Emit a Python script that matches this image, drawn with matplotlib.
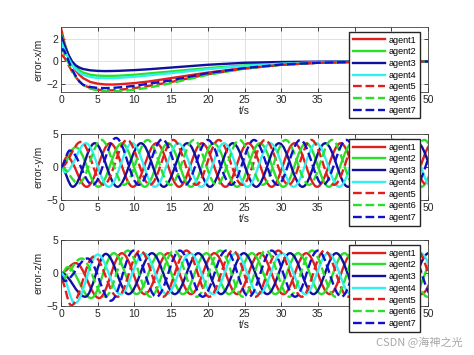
import matplotlib
matplotlib.use('Agg')
import matplotlib.pyplot as plt
from matplotlib.path import Path
from matplotlib.patches import PathPatch
from matplotlib.lines import Line2D

plt.rcParams['font.family'] = ['Liberation Sans', 'DejaVu Sans']

agents = ['agent1', 'agent2', 'agent3', 'agent4', 'agent5', 'agent6', 'agent7']
xticks = [0, 5, 10, 15, 20, 25, 30, 35, 40, 45, 50]
# 40 and 45 sit behind the legend in the reference
xticklabels = ['0', '5', '10', '15', '20', '25', '30', '35', '', '', '50']

x_time = [0, 0.25, 0.5, 1, 1.5, 2, 2.5, 3, 4, 5, 6, 7, 8, 10, 12, 15, 20, 25, 30, 35, 40, 45, 50]
x_agent1 = [3.0, 2.3, 1.6, 0.6, -0.2, -0.8, -1.2, -1.5, -1.85, -2.0, -2.07, -2.08, -2.05, -1.95, -1.8, -1.5, -1.0, -0.6, -0.3, -0.12, -0.05, -0.02, 0]
x_agent2 = [2.5, 2.0, 1.5, 0.6, -0.05, -0.5, -0.8, -1.0, -1.2, -1.28, -1.3, -1.3, -1.28, -1.2, -1.08, -0.9, -0.6, -0.35, -0.17, -0.07, -0.03, -0.01, 0]
x_agent3 = [2.3, 1.9, 1.4, 0.6, 0.0, -0.35, -0.55, -0.68, -0.8, -0.85, -0.87, -0.86, -0.84, -0.78, -0.7, -0.55, -0.3, -0.12, -0.05, -0.02, 0, 0, 0]
x_agent4 = [1.8, 1.4, 1.0, 0.3, -0.3, -0.7, -1.0, -1.2, -1.4, -1.48, -1.5, -1.5, -1.47, -1.38, -1.25, -1.05, -0.7, -0.4, -0.2, -0.08, -0.03, -0.01, 0]
x_agent5 = [0.6, 0.5, 0.3, -0.3, -0.9, -1.4, -1.8, -2.1, -2.4, -2.55, -2.6, -2.6, -2.55, -2.4, -2.2, -1.85, -1.15, -0.65, -0.3, -0.12, -0.05, -0.02, 0]
x_agent6 = [1.2, 1.0, 0.6, -0.1, -0.8, -1.4, -1.8, -2.1, -2.45, -2.6, -2.68, -2.7, -2.67, -2.55, -2.35, -1.95, -1.2, -0.65, -0.3, -0.12, -0.05, -0.02, 0]
x_agent7 = [0.9, 1.1, 0.9, 0.1, -0.7, -1.3, -1.8, -2.1, -2.3, -2.38, -2.4, -2.38, -2.33, -2.2, -2.0, -1.7, -1.05, -0.6, -0.28, -0.12, -0.05, -0.02, 0]

# error-y: start point, then successive peaks / troughs (time, value)
y_t1 = [0, 0.8, 3.5, 6.7, 9.8, 13.0, 16.1, 19.2, 22.4, 25.5, 28.7, 31.8, 34.9, 38.1, 41.2, 44.4, 47.5, 50.6]
y_v1 = [0, 1.5, -3.0, 3.6, -3.0, 3.6, -3.0, 3.6, -3.0, 3.6, -3.0, 3.6, -3.0, 3.6, -3.0, 3.6, -3.0, 3.6]
y_t2 = [0, 2.0, 5.1, 8.3, 11.4, 14.6, 17.7, 20.8, 24.0, 27.1, 30.3, 33.4, 36.5, 39.7, 42.8, 46.0, 49.1, 52.2]
y_v2 = [0, 3.0, -3.0, 3.6, -3.0, 3.6, -3.0, 3.6, -3.0, 3.6, -3.0, 3.6, -3.0, 3.6, -3.0, 3.6, -3.0, 3.6]
y_t3 = [0, 1.6, 4.6, 7.7, 10.9, 14.0, 17.2, 20.3, 23.4, 26.6, 29.7, 32.9, 36.0, 39.1, 42.3, 45.4, 48.6, 51.7]
y_v3 = [0, -3.0, 3.6, -3.0, 3.6, -3.0, 3.6, -3.0, 3.6, -3.0, 3.6, -3.0, 3.6, -3.0, 3.6, -3.0, 3.6, -3.0]
y_t4 = [0, 0.6, 3.4, 6.5, 9.7, 12.8, 16.0, 19.1, 22.2, 25.4, 28.5, 31.7, 34.8, 37.9, 41.1, 44.2, 47.4, 50.5]
y_v4 = [0, -0.8, 3.6, -3.0, 3.6, -3.0, 3.6, -3.0, 3.6, -3.0, 3.6, -3.0, 3.6, -3.0, 3.6, -3.0, 3.6, -3.0]
y_t5 = [0, 2.7, 5.8, 9.0, 12.1, 15.3, 18.4, 21.5, 24.7, 27.8, 31.0, 34.1, 37.2, 40.4, 43.5, 46.7, 49.8, 52.9]
y_v5 = [0, 3.8, -2.7, 4.1, -2.7, 4.1, -2.7, 4.1, -2.7, 4.1, -2.7, 4.1, -2.7, 4.1, -2.7, 4.1, -2.7, 4.1]
y_t6 = [0, 2.4, 5.5, 8.6, 11.8, 14.9, 18.1, 21.2, 24.3, 27.5, 30.6, 33.8, 36.9, 40.0, 43.2, 46.3, 49.5, 52.6]
y_v6 = [0, -2.5, 4.1, -2.7, 4.1, -2.7, 4.1, -2.7, 4.1, -2.7, 4.1, -2.7, 4.1, -2.7, 4.1, -2.7, 4.1, -2.7]
y_t7 = [0, 1.2, 4.3, 7.5, 10.6, 13.8, 16.9, 20.0, 23.2, 26.3, 29.5, 32.6, 35.7, 38.9, 42.0, 45.2, 48.3, 51.4]
y_v7 = [0, 2.5, -2.7, 4.4, -2.7, 4.2, -2.7, 4.1, -2.7, 4.1, -2.7, 4.1, -2.7, 4.1, -2.7, 4.1, -2.7, 4.1]

# error-z: start point, then successive peaks / troughs (time, value)
z_t1 = [0, 2.0, 5.2, 8.3, 11.4, 14.6, 17.7, 20.9, 24.0, 27.1, 30.3, 33.4, 36.6, 39.7, 42.8, 46.0, 49.1, 52.3]
z_v1 = [0, 1.5, -3.8, 3.0, -3.2, 3.0, -3.2, 3.0, -3.2, 3.0, -3.2, 3.0, -3.2, 3.0, -3.2, 3.0, -3.2, 3.0]
z_t2 = [0, 0.9, 4.1, 7.2, 10.3, 13.5, 16.6, 19.8, 22.9, 26.0, 29.2, 32.3, 35.5, 38.6, 41.7, 44.9, 48.0, 51.2]
z_v2 = [-0.3, 0.9, -3.8, 3.0, -3.2, 3.0, -3.2, 3.0, -3.2, 3.0, -3.2, 3.0, -3.2, 3.0, -3.2, 3.0, -3.2, 3.0]
z_t3 = [0, 3.3, 6.1, 9.2, 12.4, 15.5, 18.7, 21.8, 24.9, 28.1, 31.2, 34.4, 37.5, 40.6, 43.8, 46.9, 50.1]
z_v3 = [0, -3.6, 2.9, -3.2, 3.0, -3.2, 3.0, -3.2, 3.0, -3.2, 3.0, -3.2, 3.0, -3.2, 3.0, -3.2, 3.0]
z_t4 = [0, 1.9, 5.0, 8.1, 11.3, 14.4, 17.6, 20.7, 23.8, 27.0, 30.1, 33.3, 36.4, 39.5, 42.7, 45.8, 49.0, 52.1]
z_v4 = [0, -4.6, 2.8, -3.2, 3.0, -3.2, 3.0, -3.2, 3.0, -3.2, 3.0, -3.2, 3.0, -3.2, 3.0, -3.2, 3.0, -3.2]
z_t5 = [0, 1.4, 4.5, 7.7, 10.8, 13.9, 17.1, 20.2, 23.4, 26.5, 29.6, 32.8, 35.9, 39.1, 42.2, 45.3, 48.5, 51.6]
z_v5 = [-1.0, -4.9, 2.5, -3.6, 3.4, -3.6, 3.4, -3.6, 3.4, -3.6, 3.4, -3.6, 3.4, -3.6, 3.4, -3.6, 3.4, -3.6]
z_t6 = [0, 2.8, 6.0, 9.1, 12.2, 15.4, 18.5, 21.7, 24.8, 27.9, 31.1, 34.2, 37.4, 40.5, 43.6, 46.8, 49.9, 53.1]
z_v6 = [-1.0, 2.2, -3.6, 3.4, -3.6, 3.4, -3.6, 3.4, -3.6, 3.4, -3.6, 3.4, -3.6, 3.4, -3.6, 3.4, -3.6, 3.4]
z_t7 = [0, 0.5, 3.6, 6.8, 9.9, 13.0, 16.2, 19.3, 22.5, 25.6, 28.7, 31.9, 35.0, 38.2, 41.3, 44.4, 47.6, 50.7]
z_v7 = [-0.5, -1.2, 2.2, -4.2, 3.4, -3.6, 3.4, -3.6, 3.4, -3.6, 3.4, -3.6, 3.4, -3.6, 3.4, -3.6, 3.4, -3.6]

colors = ['#e01e1e', '#28e028', '#10109c', '#30f0f0', '#e01e1e', '#28e028', '#1010c8']
styles = ['-', '-', '-', '-', '--', '--', '--']
LW = 1.7


def wave_path(ts, vs):
    """Smooth curve through the extrema, flat tangent at each turning point."""
    verts = [(ts[0], vs[0])]
    codes = [Path.MOVETO]
    for i in range(1, len(ts)):
        dt = ts[i] - ts[i - 1]
        verts += [(ts[i - 1] + 0.36 * dt, vs[i - 1]), (ts[i] - 0.36 * dt, vs[i]), (ts[i], vs[i])]
        codes += [Path.CURVE4] * 3
    return Path(verts, codes)


def style_axes(ax, ylabel, ylim, yticks):
    ax.set_xlim(0, 50)
    ax.set_ylim(*ylim)
    ax.set_xticks(xticks)
    ax.set_xticklabels(xticklabels)
    ax.set_yticks(yticks)
    ax.grid(True, color='#dcdcdc', linewidth=0.6)
    ax.set_axisbelow(True)
    ax.tick_params(direction='in', top=True, right=True, length=3, width=0.6,
                   labelsize=7.5, pad=2, colors='#262626')
    for s in ax.spines.values():
        s.set_color('#404040')
        s.set_linewidth(0.6)
    ax.set_xlabel('t/s', fontsize=7.5, labelpad=1, color='#262626')
    ax.set_ylabel(ylabel, fontsize=7.5, labelpad=2, color='#262626')
    handles = [Line2D([], [], color=c, linestyle=ls, linewidth=LW) for c, ls in zip(colors, styles)]
    ax.legend(handles, agents, loc='upper right', bbox_to_anchor=(1 - 8 / 367, 1 - 5 / 65),
              borderaxespad=0, fontsize=6.5, frameon=True, fancybox=False, framealpha=1,
              edgecolor='#262626', labelspacing=0.3, handlelength=3.6, handletextpad=0.4,
              borderpad=0.4)


fig = plt.figure(figsize=(4.74, 3.55), dpi=100)
left, width = 61 / 474, 367 / 474
ax1 = fig.add_axes([left, 1 - 92 / 355, width, 65 / 355])
ax2 = fig.add_axes([left, 1 - 200 / 355, width, 66 / 355])
ax3 = fig.add_axes([left, 1 - 306 / 355, width, 66 / 355])

x_all = [x_agent1, x_agent2, x_agent3, x_agent4, x_agent5, x_agent6, x_agent7]
for vals, c, ls in zip(x_all, colors, styles):
    ax1.plot(x_time, vals, color=c, linestyle=ls, linewidth=LW)

y_all = [(y_t1, y_v1), (y_t2, y_v2), (y_t3, y_v3), (y_t4, y_v4), (y_t5, y_v5), (y_t6, y_v6), (y_t7, y_v7)]
z_all = [(z_t1, z_v1), (z_t2, z_v2), (z_t3, z_v3), (z_t4, z_v4), (z_t5, z_v5), (z_t6, z_v6), (z_t7, z_v7)]
for ax, series in [(ax2, y_all), (ax3, z_all)]:
    for (ts, vs), c, ls in zip(series, colors, styles):
        ax.add_patch(PathPatch(wave_path(ts, vs), fill=False, edgecolor=c,
                               linestyle=ls, linewidth=LW, joinstyle='round'))

style_axes(ax1, 'error-x/m', (-2.75, 3.1), [-2, 0, 2])
style_axes(ax2, 'error-y/m', (-5, 5), [-5, 0, 5])
style_axes(ax3, 'error-z/m', (-5, 5), [-5, 0, 5])

fig.text(463 / 474, 1 - 343 / 355, 'CSDN @海神之光', ha='right', va='center', fontsize=8,
         color='#a8a8a8', family=['Noto Sans CJK SC', 'DejaVu Sans'])

fig.savefig('out.png', dpi=100, facecolor='white')
